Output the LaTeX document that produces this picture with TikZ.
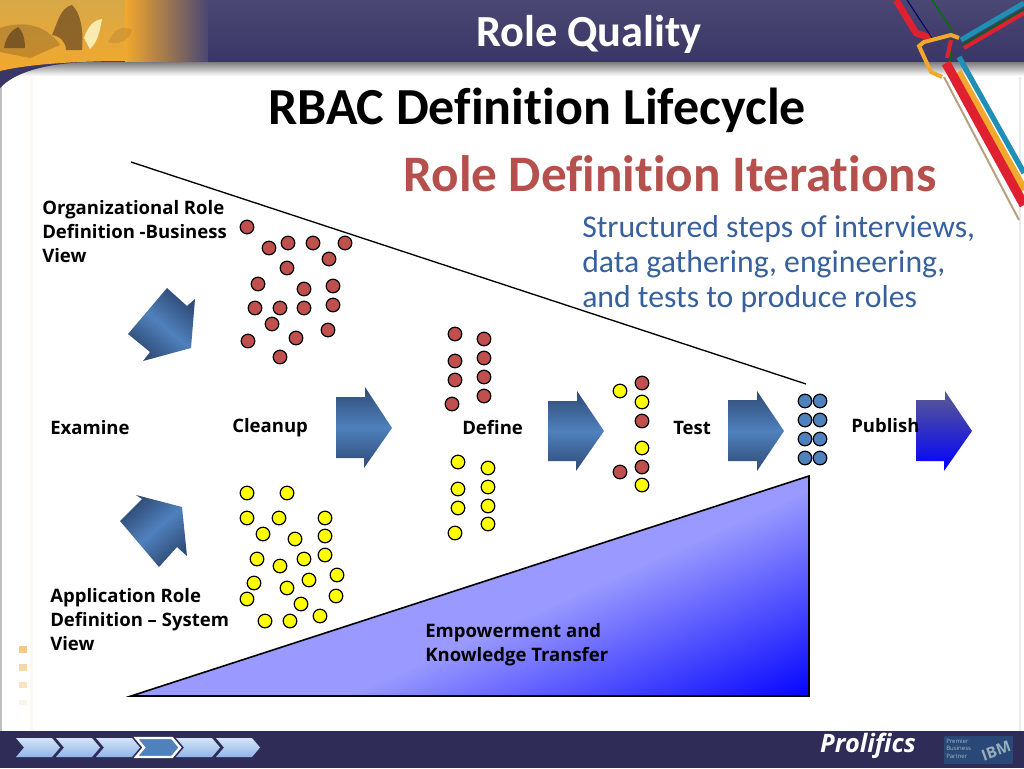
\documentclass[tikz,border=0pt]{standalone}
\usepackage{fontspec}
\setmainfont{Open Sans}
\newfontfamily\headfont[RawFeature={-liga}]{Carlito}
\definecolor{barblue}{HTML}{3A3766}
\definecolor{bartop}{HTML}{4A4774}
\definecolor{footblue}{HTML}{2F2D58}
\definecolor{dotred}{HTML}{C0504D}
\definecolor{dotyellow}{HTML}{FFFF00}
\definecolor{dotblue}{HTML}{4F81BD}
\definecolor{arrowdark}{HTML}{2F4A75}
\definecolor{arrowmid}{HTML}{4F81BD}
\definecolor{headred}{HTML}{B5504C}
\definecolor{stepblue}{HTML}{36609E}
\definecolor{goldbar}{HTML}{F2A82C}
\definecolor{goldtop}{HTML}{D8A848}
\definecolor{triblue}{HTML}{9999FF}
\definecolor{linered}{HTML}{DE2030}
\definecolor{lineteal}{HTML}{1F8FB5}
\definecolor{linetan}{HTML}{B8A080}
\definecolor{chevtop}{HTML}{D6E4F7}
\definecolor{chevbottom}{HTML}{8FB5E8}
\definecolor{squarecolor}{HTML}{F5C88A}
\definecolor{publishtop}{HTML}{5C5B8E}
\pgfdeclarehorizontalshading{triangleshade}{100bp}{color(0bp)=(triblue);color(57bp)=(triblue);color(84bp)=(blue);color(100bp)=(blue)}
\begin{document}
\begin{tikzpicture}[x=0.75pt, y=-0.75pt,
		dotnode/.style={circle, draw=black, line width=0.9pt, minimum size=10.2pt, inner sep=0pt},
		blockarrow/.style={top color=arrowdark, bottom color=arrowdark, middle color=arrowmid, draw=none},
		label/.style={anchor=west, inner sep=0pt, align=left, font=\fontsize{13.9}{18}\selectfont\bfseries},
		chevron/.style={top color=chevtop, bottom color=chevbottom, draw=none}]
	\useasboundingbox (0,0) rectangle (1024,768);
	\fill[white] (0,0) rectangle (1024,768);
	% Page edge
	\fill[black!25] (0,75) rectangle (1.5,731);
	\fill[orange!6] (30,75) rectangle (33,731);
	\fill[black!8] (1019,75) rectangle (1021,731);
	\fill[squarecolor] (19,646) rectangle (27,653);
	\fill[squarecolor!75] (19,664) rectangle (27,671);
	\fill[squarecolor!50] (19,682) rectangle (27,688);
	\fill[squarecolor!20] (19,700) rectangle (27,705);
	% Header
	\shade[top color=black!55, bottom color=white] (0,61) rectangle (1024,76);
	\shade[top color=bartop, bottom color=barblue] (0,0) rectangle (1024,61);
	\fill[barblue] (0,88) .. controls (15,72) and (45,64) .. (85,62) -- (0,62) -- cycle;
	\shade[top color=goldtop, bottom color=goldbar] (0,0) -- (125,0) -- (125,61) -- (110,61) .. controls (70,62) and (30,64) .. (0,71) -- cycle;
	\shade[left color=goldbar, middle color=brown!70!red, right color=bartop] (125,0) rectangle (208,61);
	\fill[brown!40!black, opacity=0.25] (0,28) .. controls (30,18) and (50,30) .. (60,45) -- (30,58) -- (0,52) -- cycle;
	\fill[brown!50!black, opacity=0.7] (4,48) .. controls (6,36) and (12,30) .. (18,27) .. controls (24,32) and (25,42) .. (25,48) -- cycle;
	\fill[brown!50!black, opacity=0.65] (52,35) .. controls (58,22) and (60,8) .. (72,5) .. controls (80,12) and (84,30) .. (82,50) -- (66,50) .. controls (66,42) and (60,36) .. (52,35) -- cycle;
	\fill[white!80!yellow, opacity=0.8] (84,38) .. controls (88,26) and (94,20) .. (102,19) .. controls (100,30) and (98,42) .. (90,49) -- cycle;
	\fill[brown!70!black, opacity=0.2] (108,42) .. controls (114,30) and (122,24) .. (132,30) .. controls (130,40) and (118,46) .. (108,42) -- cycle;
	% Right lines
	\draw[linered, line width=5pt] (896,0) -- (916,33) -- (931,38);
	\draw[black!60!blue, line width=0.8pt] (907,0) -- (932,38);
	\draw[green!45!black, line width=1pt] (932,0) -- (952,30) -- (950,62);
	\draw[goldbar, line width=3pt] (959,38) -- (951,35) -- (924,42) -- (919,46) -- (931,72) -- (942,77);
	\draw[linetan, line width=1.5pt] (944,77) -- (1019,220);
	\draw[lineteal, line width=3.75pt] (961,40) -- (1024,3);
	\draw[green!40!black, line width=1pt] (962,45) -- (1024,9);
	\draw[linered, line width=3pt] (964,48) -- (1024,13);
	\draw[goldbar, line width=6pt] (958,72) -- (1024,190);
	\draw[linered, line width=7pt] (946,63) -- (1024,205);
	\draw[lineteal, line width=4pt] (959,57) -- (1024,173);
	\draw[linered, line width=3pt] (951,40) -- (947,58);
	% Titles
	\node[font=\fontsize{33.3}{38}\selectfont\headfont\bfseries, text=white] (pagetitle) at (589,34) {Role Quality};
	\node[font=\fontsize{39}{44}\selectfont\headfont\bfseries] (maintitle) at (537,110) {RBAC Definition Lifecycle};
	\node[font=\fontsize{38.4}{44}\selectfont\headfont\bfseries, text=headred] (subtitle) at (670,174) {Role Definition Iterations};
	\node[anchor=west, inner sep=0pt, align=left, text=stepblue, font=\fontsize{23.8}{26}\selectfont\headfont] (steps) at (582,264) {Structured steps of interviews,\\data gathering, engineering,\\and tests to produce roles};
	% Funnel
	\coordinate (LineStart) at (131,162);
	\coordinate (LineEnd) at (806,384);
	\draw[line width=1pt] (LineStart) -- (LineEnd);
	\shade[shading=triangleshade, shading angle=-66] (131,696) -- (809,476) -- (809,696) -- cycle;
	\draw[line width=1.2pt] (131,696) -- (809,476) -- (809,696) -- cycle;
	% Labels
	\node[label] (Organizational) at (42,232) {Organizational Role\\Definition -Business\\View};
	\node[label] (Application) at (50,620) {Application Role\\Definition – System\\View};
	\node[label] (Examine) at (50,428) {Examine};
	\node[label] (Cleanup) at (232,428) {Cleanup};
	\node[label] (Define) at (462,427) {Define};
	\node[label] (Test) at (673,428) {Test};
	\node[label] (Empowerment) at (425,645) {Empowerment and\\Knowledge Transfer};
	% Arrows
	\shade[blockarrow, shading angle=-40] (128,334) -- (167,288) -- (187,306) -- (195,299) -- (191,348) -- (143,361) -- (150,352) -- cycle;
	\shade[blockarrow, shading angle=40] (120,521) -- (142,499) -- (136,495) -- (182,507) -- (187,556) -- (177,547) -- (159,567) -- cycle;
	\shade[blockarrow] (336,397) -- (365,397) -- (365,387) -- (392,428) -- (364,468) -- (364,458) -- (336,458) -- cycle;
	\shade[blockarrow] (548,401) -- (577,401) -- (577,391) -- (604,431) -- (576,471) -- (576,461) -- (548,461) -- cycle;
	\shade[blockarrow] (728,400) -- (757,400) -- (757,391) -- (784,431) -- (757,471) -- (757,461) -- (728,461) -- cycle;
	\shade[top color=publishtop, bottom color=blue] (916,400) -- (945,400) -- (945,391) -- (972,431) -- (944,471) -- (944,461) -- (916,461) -- cycle;
	\node[label] (Publish) at (851,426) {Publish};
	% Dots
	\foreach \x/\y [count=\i] in {247/227,269/248,288/243,313/243,345/243,329/259,287/268,258/284,304/289,333/286,255/308,280/308,304/308,333/305,272/324,328/330,296/338,248/341,280/357,455/334,484/339,455/361,484/358,455/380,484/377,452/404,484/396,642/383,642/421,642/467,620/472}
		\node[dotnode, fill=dotred] (red\i) at (\x,\y) {};
	\foreach \x/\y [count=\i] in {247/493,287/493,247/518,279/518,325/518,263/534,295/539,325/536,257/559,280/566,304/559,325/555,337/575,254/583,287/588,309/580,247/599,336/596,301/604,320/616,265/621,290/621,458/462,488/468,458/489,488/487,458/508,488/506,488/524,455/533,620/391,642/402,642/448,642/485}
		\node[dotnode, fill=dotyellow] (yellow\i) at (\x,\y) {};
	\foreach \x/\y [count=\i] in {805/401,820/401,805/420,820/420,805/439,820/439,805/458,820/458}
		\node[dotnode, fill=dotblue] (blue\i) at (\x,\y) {};
	% Footer
	\fill[footblue] (0,731) rectangle (1024,768);
	\foreach \x in {16,56,96,176,216}
		\shade[chevron] (\x,738) -- (\x+36,738) -- (\x+44,747.5) -- (\x+36,757) -- (\x,757) -- (\x+8,747.5) -- cycle;
	\draw[white, line width=1.8pt, fill=arrowmid] (136,738) -- (172,738) -- (180,747.5) -- (172,757) -- (136,757) -- (144,747.5) -- cycle;
	\node[text=white, font=\fontsize{19}{20}\selectfont\bfseries\itshape] (Prolifics) at (868,746) {Prolifics};
	\fill[stepblue!75!black] (944,736) rectangle (1013,764);
	\node[anchor=north west, inner sep=0pt, align=left, text=cyan!25!gray!70!white, font=\fontsize{4.5}{5.4}\selectfont] (Partner) at (946,739) {Premier\\Business\\Partner};
	\node[text=cyan!25!gray!80!white, font=\fontsize{11.5}{13}\selectfont\bfseries, rotate=20, inner sep=0pt] (IBM) at (996,751) {IBM};
\end{tikzpicture}
\end{document}
